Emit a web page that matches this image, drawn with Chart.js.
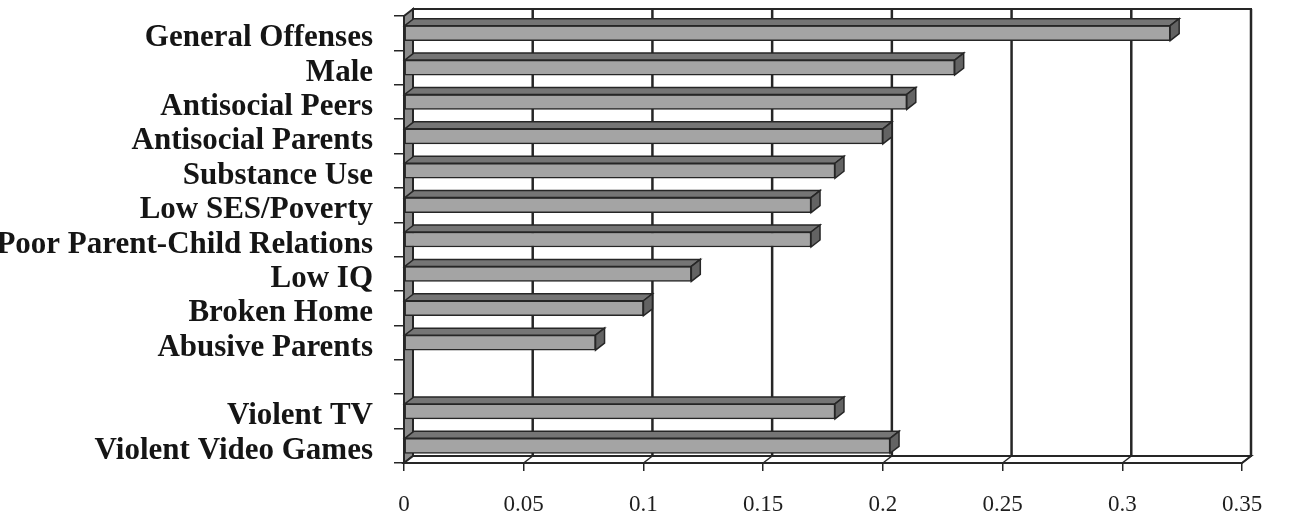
<!DOCTYPE html>
<html lang="en">
<head>
    <meta charset="UTF-8">
    <title>Effect sizes</title>
    <script src="https://cdn.jsdelivr.net/npm/chart.js"></script>
    <style>
        body {
            margin: 0;
            padding: 0;
            background-color: #fff;
        }

        .wrap {
            width: 1295px;
            height: 532px;
            position: relative;
        }
    </style>
</head>
<body>
    <div class="wrap">
        <canvas id="riskChart"></canvas>
    </div>

    <script>
        // data
        const categories = ['General Offenses', 'Male', 'Antisocial Peers', 'Antisocial Parents',
            'Substance Use', 'Low SES/Poverty', 'Poor Parent-Child Relations', 'Low IQ',
            'Broken Home', 'Abusive Parents', '', 'Violent TV', 'Violent Video Games'];
        const effectSizes = [0.32, 0.23, 0.21, 0.20, 0.18, 0.17, 0.17, 0.12, 0.10, 0.08, null, 0.18, 0.203];
        const xMin = 0;
        const xMax = 0.35;
        const xStep = 0.05;

        // depth of the 3D box (px)
        const DX = 9;
        const DY = -7;
        const LINE = '#262626';

        // walls, floor and gridlines on the back wall
        const box3d = {
            id: 'box3d',
            beforeDraw(chart) {
                const ctx = chart.ctx;
                const a = chart.chartArea;
                const xs = chart.scales.x;
                ctx.save();
                ctx.lineJoin = 'miter';

                // back wall
                ctx.fillStyle = '#fff';
                ctx.strokeStyle = LINE;
                ctx.lineWidth = 2;
                ctx.fillRect(a.left + DX, a.top + DY, a.right - a.left, a.bottom - a.top);
                ctx.strokeRect(a.left + DX, a.top + DY, a.right - a.left, a.bottom - a.top);

                // left wall
                ctx.beginPath();
                ctx.moveTo(a.left, a.top);
                ctx.lineTo(a.left + DX, a.top + DY);
                ctx.lineTo(a.left + DX, a.bottom + DY);
                ctx.lineTo(a.left, a.bottom);
                ctx.closePath();
                ctx.fillStyle = '#8c8c8c';
                ctx.fill();
                ctx.stroke();

                // floor
                ctx.beginPath();
                ctx.moveTo(a.left, a.bottom);
                ctx.lineTo(a.left + DX, a.bottom + DY);
                ctx.lineTo(a.right + DX, a.bottom + DY);
                ctx.lineTo(a.right, a.bottom);
                ctx.closePath();
                ctx.fillStyle = '#fff';
                ctx.fill();
                ctx.stroke();

                // gridlines: back wall + diagonal on the floor
                xs.ticks.forEach(t => {
                    const px = xs.getPixelForValue(t.value);
                    if (t.value === xMin) return;
                    ctx.lineWidth = 2.5;
                    ctx.beginPath();
                    ctx.moveTo(px + DX, a.top + DY);
                    ctx.lineTo(px + DX, a.bottom + DY);
                    ctx.stroke();
                    ctx.lineWidth = 1.5;
                    ctx.beginPath();
                    ctx.moveTo(px, a.bottom);
                    ctx.lineTo(px + DX, a.bottom + DY);
                    ctx.stroke();
                });
                ctx.restore();
            },
            afterDatasetsDraw(chart) {
                const ctx = chart.ctx;
                const meta = chart.getDatasetMeta(0);
                ctx.save();
                ctx.strokeStyle = LINE;
                ctx.lineWidth = 1.5;
                ctx.lineJoin = 'miter';
                meta.data.forEach((bar, i) => {
                    if (effectSizes[i] === null) return;
                    const p = bar.getProps(['x', 'y', 'base', 'height'], true);
                    const top = p.y - p.height / 2;
                    const bottom = p.y + p.height / 2;

                    // top face
                    ctx.beginPath();
                    ctx.moveTo(p.base, top);
                    ctx.lineTo(p.base + DX, top + DY);
                    ctx.lineTo(p.x + DX, top + DY);
                    ctx.lineTo(p.x, top);
                    ctx.closePath();
                    ctx.fillStyle = '#757575';
                    ctx.fill();
                    ctx.stroke();

                    // end face
                    ctx.beginPath();
                    ctx.moveTo(p.x, top);
                    ctx.lineTo(p.x + DX, top + DY);
                    ctx.lineTo(p.x + DX, bottom + DY);
                    ctx.lineTo(p.x, bottom);
                    ctx.closePath();
                    ctx.fillStyle = '#636363';
                    ctx.fill();
                    ctx.stroke();
                });
                ctx.restore();
            }
        };

        const ctx = document.getElementById('riskChart').getContext('2d');
        new Chart(ctx, {
            type: 'bar',
            data: {
                labels: categories,
                datasets: [{
                    data: effectSizes,
                    backgroundColor: '#a4a4a4',
                    borderColor: LINE,
                    borderWidth: 1.5,
                    borderSkipped: false,
                    barThickness: 15
                }]
            },
            options: {
                indexAxis: 'y',
                responsive: true,
                maintainAspectRatio: false,
                animation: false,
                layout: {
                    padding: { top: 16, right: 53, bottom: 0, left: 0 }
                },
                plugins: {
                    legend: { display: false },
                    tooltip: { enabled: false }
                },
                scales: {
                    x: {
                        min: xMin,
                        max: xMax,
                        afterFit: scale => {
                            scale.height = 69;
                            scale.paddingLeft = 0;
                            scale.paddingRight = 0;
                        },
                        ticks: {
                            stepSize: xStep,
                            padding: 20,
                            color: '#1e1e1e',
                            font: { family: 'Liberation Serif', size: 23 },
                            callback: v => Number(v.toFixed(2)).toString()
                        },
                        grid: {
                            drawOnChartArea: false,
                            tickLength: 8,
                            color: LINE,
                            lineWidth: 1.5
                        },
                        border: { display: true, color: LINE, width: 1.5 }
                    },
                    y: {
                        afterFit: scale => {
                            scale.width = 404;
                            scale.paddingTop = 0;
                            scale.paddingBottom = 0;
                        },
                        ticks: {
                            autoSkip: false,
                            padding: 21,
                            labelOffset: 5,
                            color: '#151515',
                            font: { family: 'Liberation Serif', size: 31, weight: 'bold' }
                        },
                        grid: {
                            drawOnChartArea: false,
                            tickLength: 10,
                            color: LINE,
                            lineWidth: 1.5
                        },
                        border: { display: true, color: LINE, width: 1.5 }
                    }
                }
            },
            plugins: [box3d]
        });
    </script>
</body>
</html>
